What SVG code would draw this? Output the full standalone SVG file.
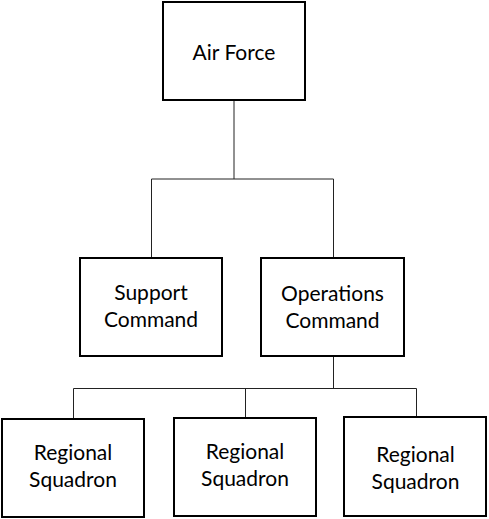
<svg xmlns="http://www.w3.org/2000/svg" width="489" height="519" viewBox="0 0 489 519">
<style>
.box{fill:#fff;stroke:#000;stroke-width:2}
.t{font-family:Lato,"Open Sans","Liberation Sans",sans-serif;font-size:21px;fill:#000;text-anchor:middle}
.c{fill:none;stroke:#222;stroke-width:1}
</style>
<rect width="489" height="519" fill="#fff"/>
<g id="connectors">
<path class="c" d="M234 101V179M151.5 179H333.5M151.5 179V257M333.5 179V257"/>
<path class="c" d="M333.5 357V388.5M73.5 388.5H416.5M73.5 388.5V418M245.5 388.5V417M416.5 388.5V416"/>
</g>
<g id="air-force">
<rect class="box" x="163" y="2" width="142" height="98"/>
<text class="t" x="234" y="59.5">Air Force</text>
</g>
<g id="support-command">
<rect class="box" x="80" y="258" width="142" height="98"/>
<text class="t" x="151" y="300">Support</text>
<text class="t" x="151" y="327.3">Command</text>
</g>
<g id="operations-command">
<rect class="box" x="261" y="258" width="143" height="98"/>
<text class="t" x="332.5" y="300.5">Operations</text>
<text class="t" x="332.5" y="327.8">Command</text>
</g>
<g id="regional-squadron-1">
<rect class="box" x="2" y="419" width="142" height="98"/>
<text class="t" x="73" y="459.5">Regional</text>
<text class="t" x="73" y="486.8">Squadron</text>
</g>
<g id="regional-squadron-2">
<rect class="box" x="174" y="418" width="142" height="98"/>
<text class="t" x="245" y="458.5">Regional</text>
<text class="t" x="245" y="486">Squadron</text>
</g>
<g id="regional-squadron-3">
<rect class="box" x="344" y="417" width="142" height="99"/>
<text class="t" x="415.5" y="461.5">Regional</text>
<text class="t" x="415.5" y="489">Squadron</text>
</g>
</svg>
